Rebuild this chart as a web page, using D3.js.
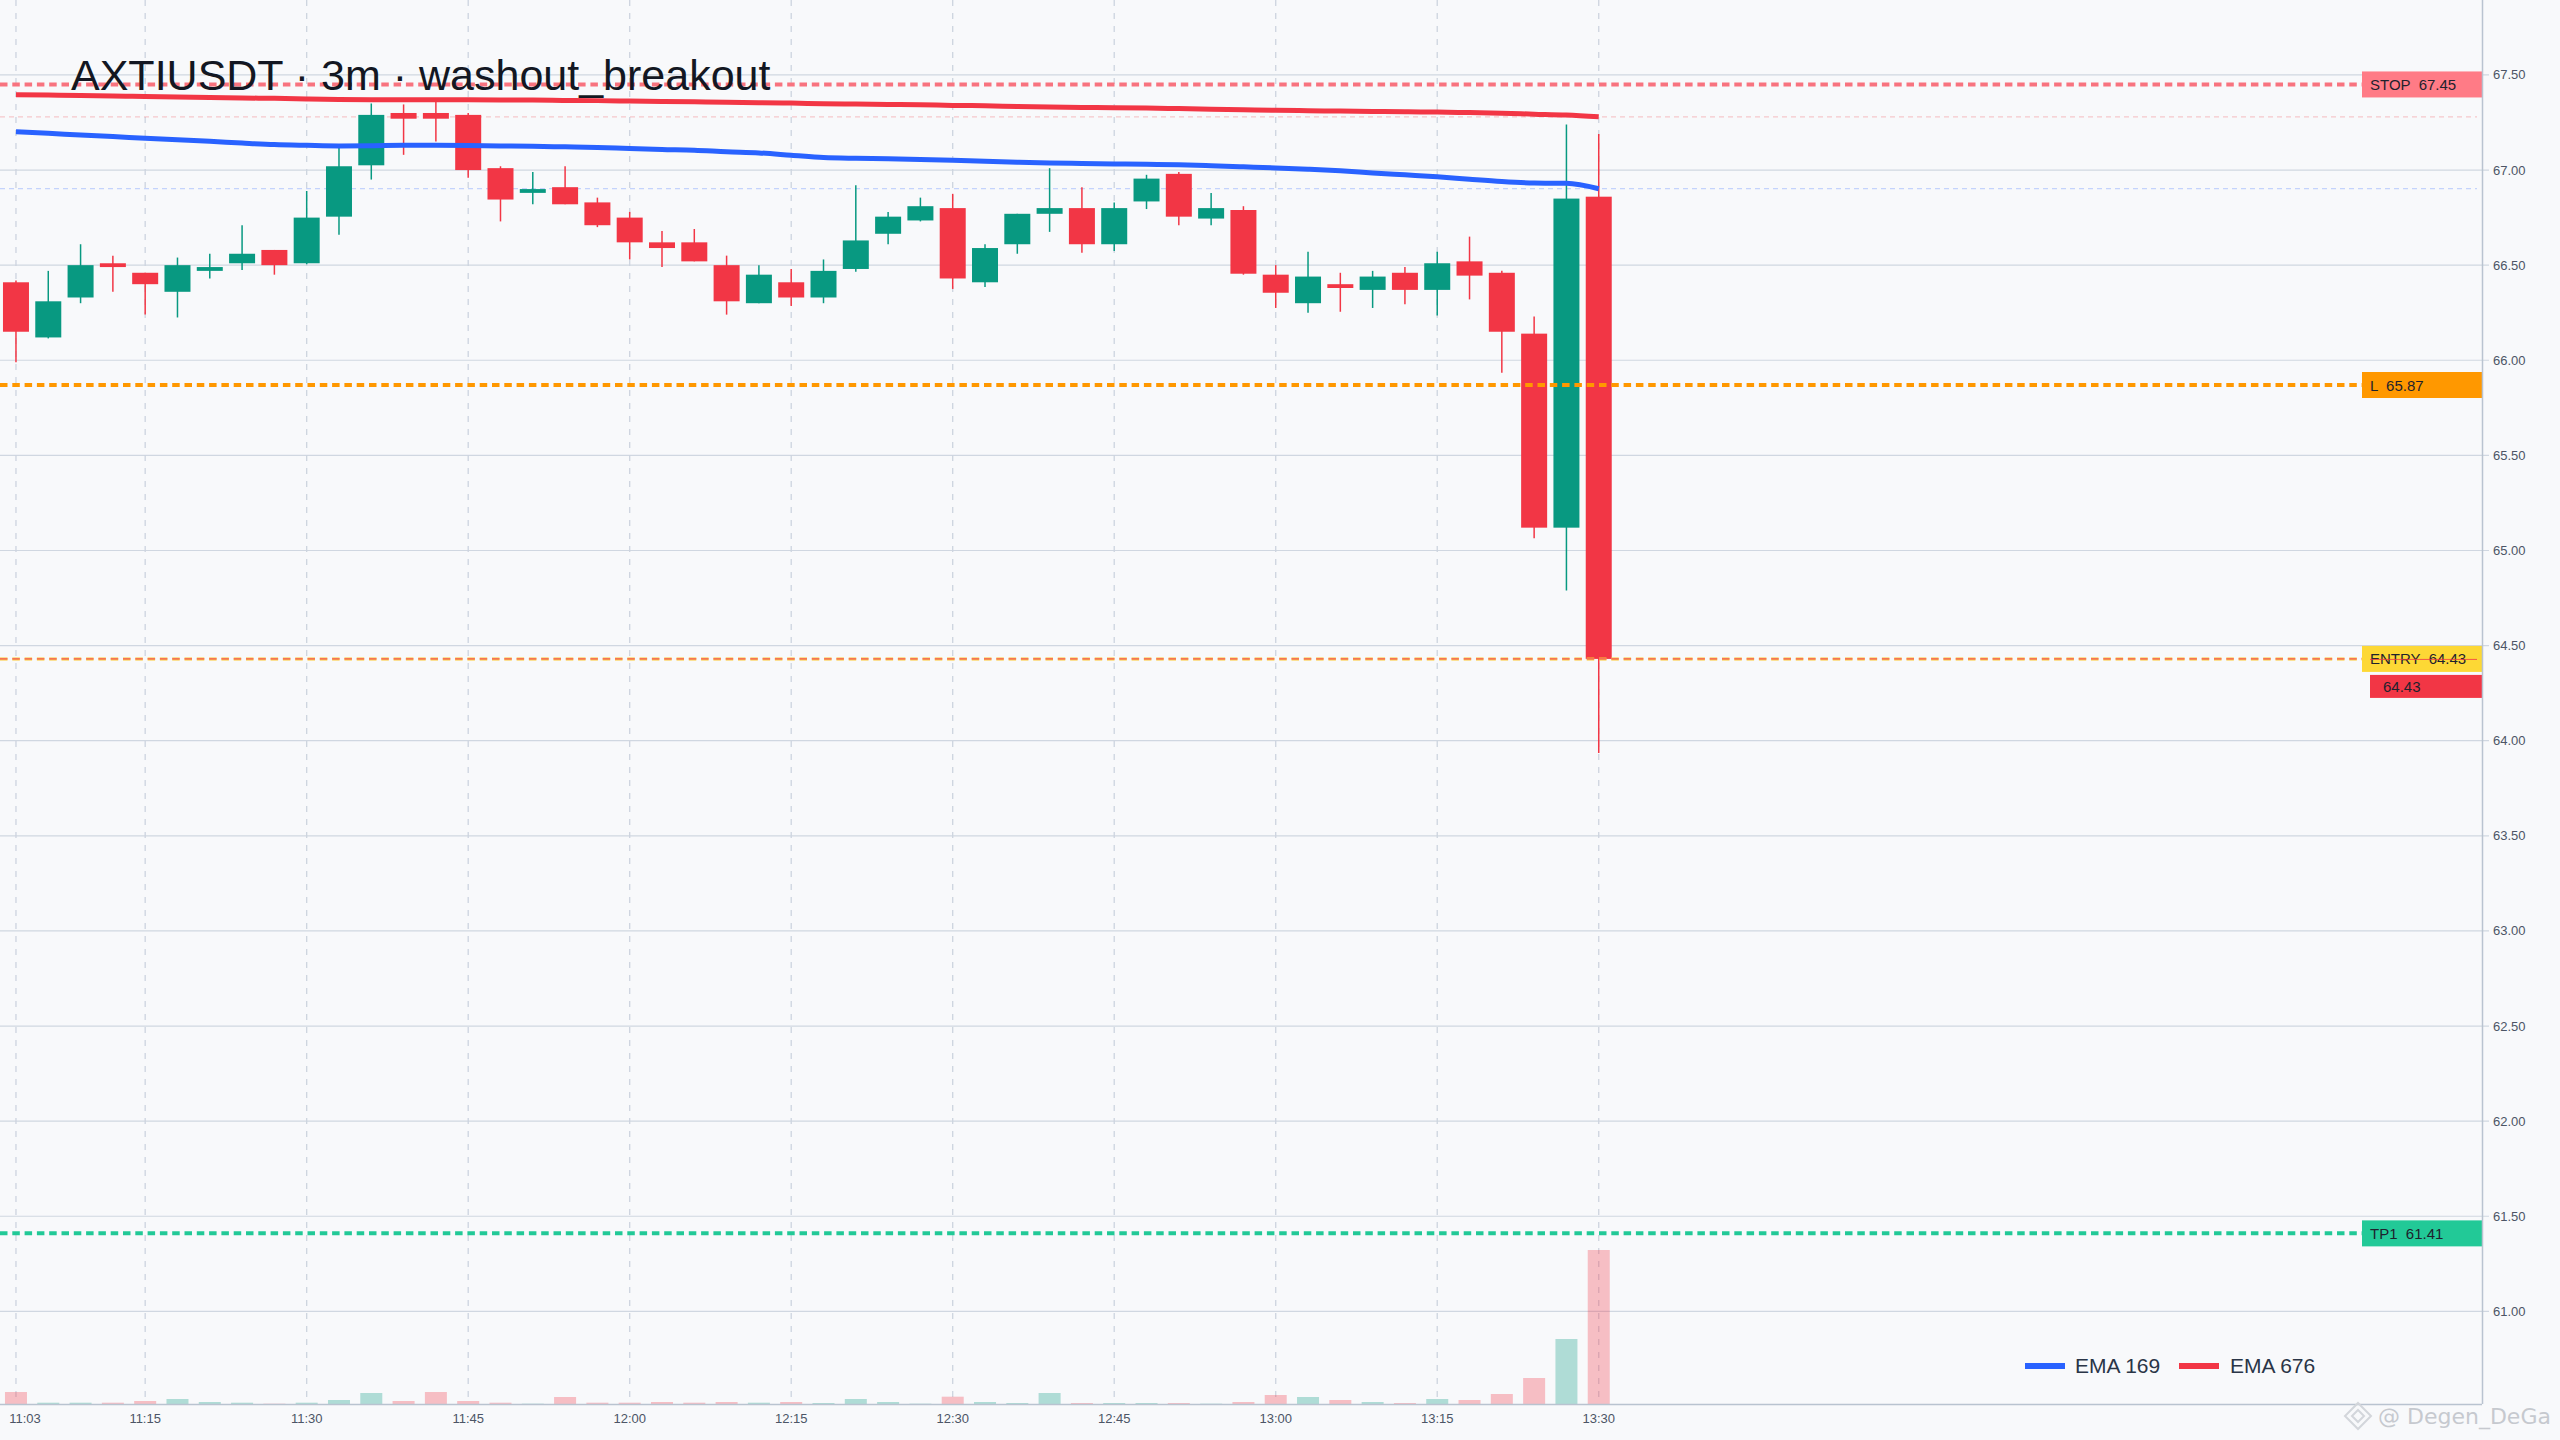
<!DOCTYPE html>
<html>
<head>
<meta charset="utf-8">
<script src="https://cdn.jsdelivr.net/npm/d3@7"></script>
<style>
  html, body { margin: 0; padding: 0; background: #f8f9fb; }
  svg { display: block; font-family: "Liberation Sans", Arial, sans-serif; }
</style>
</head>
<body>
<div id="chart"></div>
<script>
// candles, 3m bars
const times = ["11:03","11:06","11:09","11:12","11:15","11:18","11:21","11:24","11:27","11:30",
  "11:33","11:36","11:39","11:42","11:45","11:48","11:51","11:54","11:57","12:00",
  "12:03","12:06","12:09","12:12","12:15","12:18","12:21","12:24","12:27","12:30",
  "12:33","12:36","12:39","12:42","12:45","12:48","12:51","12:54","12:57","13:00",
  "13:03","13:06","13:09","13:12","13:15","13:18","13:21","13:24","13:27","13:30"];

const opens = [66.41,66.12,66.33,66.51,66.46,66.36,66.47,66.51,66.58,66.51,
  66.755,67.025,67.30,67.30,67.29,67.01,66.88,66.91,66.83,66.75,
  66.62,66.62,66.50,66.30,66.41,66.33,66.48,66.665,66.735,66.80,
  66.41,66.61,66.77,66.80,66.61,66.835,66.98,66.745,66.79,66.45,
  66.30,66.40,66.37,66.46,66.37,66.52,66.46,66.14,65.12,66.86];
const highs = [66.42,66.47,66.61,66.55,66.46,66.54,66.56,66.71,66.58,66.89,
  67.12,67.35,67.345,67.36,67.30,67.02,66.99,67.02,66.855,66.78,
  66.68,66.69,66.55,66.50,66.48,66.53,66.92,66.78,66.855,66.875,
  66.61,66.77,67.01,66.91,66.83,66.975,66.99,66.88,66.81,66.50,
  66.57,66.46,66.47,66.49,66.57,66.65,66.47,66.23,67.24,67.19];
const lows = [65.99,66.115,66.30,66.36,66.24,66.225,66.43,66.475,66.45,66.505,
  66.66,66.95,67.08,67.15,66.96,66.73,66.82,66.82,66.70,66.53,
  66.49,66.52,66.24,66.30,66.285,66.30,66.465,66.61,66.73,66.375,
  66.385,66.56,66.675,66.565,66.575,66.795,66.71,66.71,66.45,66.275,
  66.25,66.255,66.275,66.295,66.235,66.32,65.935,65.065,64.79,63.935];
const closes = [66.15,66.31,66.50,66.49,66.40,66.50,66.49,66.56,66.50,66.75,
  67.02,67.29,67.27,67.27,67.00,66.845,66.90,66.82,66.71,66.62,
  66.59,66.52,66.31,66.45,66.33,66.47,66.63,66.755,66.81,66.43,
  66.59,66.77,66.80,66.61,66.80,66.955,66.755,66.80,66.455,66.355,
  66.44,66.38,66.44,66.37,66.51,66.445,66.15,65.12,66.85,64.43];
const volumes = [1200,130,130,130,300,500,200,130,30,130,
  400,1100,300,1200,300,130,30,700,130,130,
  200,130,200,130,200,100,500,200,30,730,
  200,100,1100,100,100,100,100,30,200,900,
  700,400,200,100,500,400,1000,2600,6500,15400];

// moving averages as drawn
const ema169 = [67.201,67.193,67.184,67.176,67.167,67.159,67.151,67.142,67.134,67.130,
  67.127,67.128,67.130,67.130,67.129,67.127,67.125,67.122,67.119,67.113,
  67.108,67.104,67.096,67.090,67.078,67.066,67.062,67.060,67.056,67.052,
  67.046,67.041,67.037,67.035,67.032,67.030,67.028,67.023,67.017,67.011,
  67.004,66.996,66.985,66.975,66.965,66.952,66.940,66.932,66.930,66.902];
const ema676 = [67.396,67.394,67.392,67.389,67.387,67.384,67.382,67.379,67.377,67.374,
  67.371,67.370,67.370,67.369,67.369,67.368,67.368,67.366,67.365,67.363,
  67.361,67.359,67.357,67.354,67.352,67.349,67.347,67.345,67.343,67.340,
  67.338,67.334,67.331,67.329,67.328,67.326,67.323,67.320,67.317,67.314,
  67.312,67.310,67.308,67.306,67.305,67.302,67.299,67.294,67.289,67.280];

// trade levels
const levelNames = ["STOP", "L", "ENTRY", "TP1"];
const levelValues = [67.45, 65.87, 64.43, 61.41];

const priceTicks = [61.0,61.5,62.0,62.5,63.0,63.5,64.0,64.5,65.0,65.5,66.0,66.5,67.0,67.5];
const timeTicks = ["11:03","11:15","11:30","11:45","12:00","12:15","12:30","12:45","13:00","13:15","13:30"];

const title = "AXTIUSDT · 3m · washout_breakout";
const legendNames = ["EMA 169", "EMA 676"];

// ---- styles / layout
const W = 2560, H = 1440;
const plotRight = 2482, plotBottom = 1404;
const up = "#089981", down = "#f23645";
const blue = "#2962ff";
const dash = "7.5 4.8";
const levelStyle = {
  STOP:  { line: "#f8737f", box: "#ff7b86", width: 4 },
  L:     { line: "#ff9800", box: "#ff9800", width: 4 },
  ENTRY: { line: "#fdc72f", box: "#fdd835", width: 3 },
  TP1:   { line: "#22c997", box: "#22c997", width: 4 }
};

const parseTime = d3.timeParse("%H:%M");
const dates = times.map(parseTime);
const t0 = +dates[0];

const x = d3.scaleTime()
  .domain([new Date(t0 - 89e3), new Date(t0 + 13742e3)])
  .range([0, plotRight]);

const y = d3.scaleLinear()
  .domain([60.513, 67.894])
  .range([plotBottom, 0]);

const v = d3.scaleLinear()
  .domain([0, d3.max(volumes)])
  .range([plotBottom, plotBottom - 154]);

const svg = d3.select("#chart").append("svg")
  .attr("width", W).attr("height", H)
  .attr("viewBox", `0 0 ${W} ${H}`);

svg.append("rect").attr("width", W).attr("height", H).attr("fill", "#f8f9fb");

// grid
svg.append("g").selectAll("line").data(priceTicks).enter().append("line")
  .attr("x1", 0).attr("x2", plotRight + 7)
  .attr("y1", d => y(d)).attr("y2", d => y(d))
  .attr("stroke", "#d0d7e1").attr("stroke-width", 1.2);

svg.append("g").selectAll("line").data(timeTicks).enter().append("line")
  .attr("x1", d => x(parseTime(d))).attr("x2", d => x(parseTime(d)))
  .attr("y1", 0).attr("y2", plotBottom)
  .attr("stroke", "#cdd4df").attr("stroke-width", 1.3)
  .attr("stroke-dasharray", "6 7");

// volume
svg.append("g").selectAll("rect").data(volumes).enter().append("rect")
  .attr("x", (d, i) => x(dates[i]) - 11)
  .attr("width", 22)
  .attr("y", d => v(d))
  .attr("height", d => plotBottom - v(d))
  .attr("fill", (d, i) => closes[i] >= opens[i] ? "rgba(8,153,129,0.3)" : "rgba(242,54,69,0.3)");

// ema last value lines
[[ema169, blue], [ema676, down]].forEach(([s, c]) => {
  svg.append("line")
    .attr("x1", 0).attr("x2", plotRight - 5)
    .attr("y1", y(s[s.length - 1])).attr("y2", y(s[s.length - 1]))
    .attr("stroke", c).attr("stroke-opacity", 0.25).attr("stroke-width", 1.3)
    .attr("stroke-dasharray", "5 4");
});

// candles
const candles = svg.append("g").selectAll("g").data(dates).enter().append("g");
candles.append("line")
  .attr("x1", d => x(d)).attr("x2", d => x(d))
  .attr("y1", (d, i) => y(highs[i])).attr("y2", (d, i) => y(lows[i]))
  .attr("stroke", (d, i) => closes[i] >= opens[i] ? up : down)
  .attr("stroke-width", 1.5);
candles.append("rect")
  .attr("x", d => x(d) - 13).attr("width", 26)
  .attr("y", (d, i) => y(Math.max(opens[i], closes[i])))
  .attr("height", (d, i) => Math.max(1, Math.abs(y(opens[i]) - y(closes[i]))))
  .attr("fill", (d, i) => closes[i] >= opens[i] ? up : down);

// level lines
levelNames.forEach((n, i) => {
  const st = levelStyle[n];
  svg.append("line")
    .attr("x1", 0).attr("x2", 2362)
    .attr("y1", y(levelValues[i])).attr("y2", y(levelValues[i]))
    .attr("stroke", st.line).attr("stroke-width", st.width)
    .attr("stroke-dasharray", dash);
});

// last price line, dashed like the entry line it sits on
const last = closes[closes.length - 1];
svg.append("line")
  .attr("x1", 0).attr("x2", 2362)
  .attr("y1", y(last)).attr("y2", y(last))
  .attr("stroke", "#f25a66").attr("stroke-width", 1.2)
  .attr("stroke-dasharray", dash);

// ema lines
const line = s => d3.line().x((d, i) => x(dates[i])).y(d => y(d)).curve(d3.curveMonotoneX)(s);
svg.append("path").attr("d", line(ema676)).attr("fill", "none")
  .attr("stroke", down).attr("stroke-width", 5);
svg.append("path").attr("d", line(ema169)).attr("fill", "none")
  .attr("stroke", blue).attr("stroke-width", 5);

// level labels
levelNames.forEach((n, i) => {
  const st = levelStyle[n];
  const yy = y(levelValues[i]);
  svg.append("rect").attr("x", 2362).attr("y", yy - 13)
    .attr("width", plotRight - 2362).attr("height", 26).attr("fill", st.box);
  svg.append("text").attr("x", 2370).attr("y", yy)
    .attr("dominant-baseline", "central")
    .style("white-space", "pre")
    .attr("font-size", 15).attr("fill", "#1e222d")
    .text(`${n}  ${levelValues[i].toFixed(2)}`);
});

// last price label
svg.append("line")
  .attr("x1", 2370).attr("x2", plotRight - 5)
  .attr("y1", y(last) + 0.5).attr("y2", y(last) + 0.5)
  .attr("stroke", down).attr("stroke-opacity", 0.8).attr("stroke-width", 1);
svg.append("rect").attr("x", 2370).attr("y", y(last) + 16)
  .attr("width", plotRight - 2370).attr("height", 23).attr("fill", down);
svg.append("text").attr("x", 2383).attr("y", y(last) + 27.5)
  .attr("dominant-baseline", "central")
  .attr("font-size", 15).attr("fill", "#1e222d")
  .text(last.toFixed(2));

// axes
svg.append("line").attr("x1", plotRight + 0.5).attr("x2", plotRight + 0.5)
  .attr("y1", 0).attr("y2", plotBottom).attr("stroke", "#b9c3d0").attr("stroke-width", 1.5);
svg.append("line").attr("x1", 0).attr("x2", plotRight)
  .attr("y1", plotBottom + 0.5).attr("y2", plotBottom + 0.5).attr("stroke", "#b9c3d0").attr("stroke-width", 1.5);

svg.append("g").selectAll("text").data(priceTicks).enter().append("text")
  .attr("x", 2493).attr("y", d => y(d))
  .attr("dominant-baseline", "central")
  .attr("font-size", 13).attr("fill", "#4c5566")
  .text(d3.format(".2f"));

svg.append("g").selectAll("text").data(timeTicks).enter().append("text")
  .attr("x", d => Math.max(x(parseTime(d)), 25)).attr("y", 1418)
  .attr("text-anchor", "middle").attr("dominant-baseline", "central")
  .attr("font-size", 13).attr("fill", "#4c5566")
  .text(d => d);

// title
svg.append("text").attr("x", 71).attr("y", 90)
  .attr("font-size", 43).attr("fill", "#131722")
  .text(title);

// legend
const legend = svg.append("g");
[[blue, 2025, 2075], [down, 2179, 2230]].forEach(([c, sx, tx], i) => {
  legend.append("rect").attr("x", sx).attr("y", 1363).attr("width", 40).attr("height", 6).attr("fill", c);
  legend.append("text").attr("x", tx).attr("y", 1373)
    .attr("font-size", 21).attr("fill", "#2a3547").text(legendNames[i]);
});

// watermark
const wm = svg.append("g").attr("fill", "none").attr("stroke", "#d3d6db").attr("stroke-width", 2);
wm.append("path").attr("d", "M2358,1403 L2371,1416 L2358,1429 L2345,1416 Z");
wm.append("path").attr("d", "M2358,1410 L2364,1416 L2358,1422 L2352,1416 Z");
svg.append("text").attr("x", 2378).attr("y", 1424)
  .attr("font-family", "DejaVu Sans").attr("font-size", 22).attr("fill", "#c6c9cf")
  .style("white-space", "pre")
  .text("@ Degen_DeGa");
</script>
</body>
</html>
